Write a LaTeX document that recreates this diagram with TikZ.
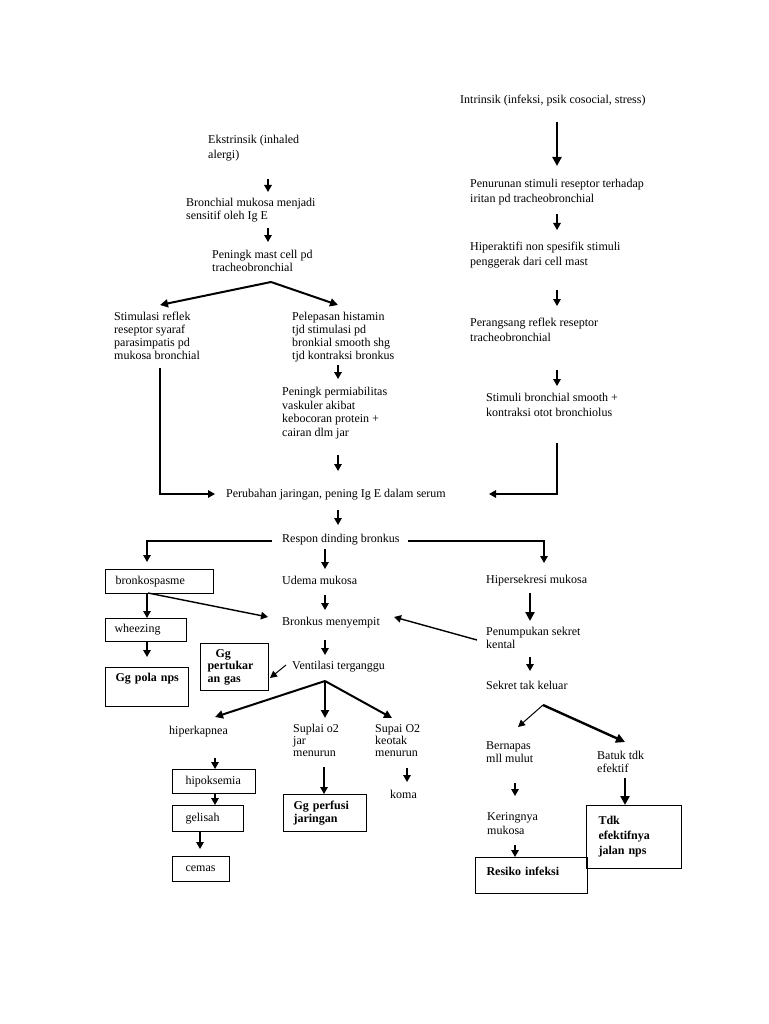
\documentclass[tikz,border=0pt]{standalone}
\usepackage{fontspec}
\setmainfont{Liberation Serif}
\usetikzlibrary{arrows.meta,calc}
\begin{document}
\begin{tikzpicture}[x=1pt,y=-1pt,
  fnt/.style={font=\fontsize{12}{13}\selectfont},
  txt/.style={fnt, anchor=north west, inner sep=0pt, align=left},
  bx/.style={fnt, draw, line width=1.1pt, anchor=north west, inner ysep=0pt, align=left},
  arr/.style={line width=1.4pt, -{Triangle[length=7pt,width=7.5pt]}},
  thk/.style={line width=2.4pt, -{Triangle[length=9pt,width=9pt]}},
  brn/.style={line width=2pt, -{Triangle[length=8pt,width=8pt]}},
  thn/.style={line width=1pt, -{Triangle[length=7pt,width=7pt]}}
]
\useasboundingbox[fill=white] (0,0) rectangle (768,1024);

% ---- text nodes
\node[txt] (intr) at (460,94.5) {Intrinsik (infeksi, psik cosocial, stress)};
\node[txt, font=\fontsize{12}{14.5}\selectfont] (ekst) at (208,135) {Ekstrinsik (inhaled\\alergi)};
\node[txt] (bmuk) at (186,198) {Bronchial mukosa menjadi\\sensitif oleh Ig E};
\node[txt] (mast) at (212,250) {Peningk mast cell pd\\tracheobronchial};
\node[txt] (stim) at (114,312) {Stimulasi reflek\\reseptor syaraf\\parasimpatis pd\\mukosa bronchial};
\node[txt] (pelep) at (292,312) {Pelepasan histamin\\tjd stimulasi pd\\bronkial smooth shg\\tjd kontraksi bronkus};
\node[txt, font=\fontsize{12}{13.5}\selectfont] (perm) at (282,387) {Peningk permiabilitas\\vaskuler akibat\\kebocoran protein +\\cairan dlm jar};
\node[txt, font=\fontsize{12}{14.5}\selectfont] (penur) at (470,179) {Penurunan stimuli reseptor terhadap\\iritan pd tracheobronchial};
\node[txt, font=\fontsize{12}{15}\selectfont] (hiper) at (470,242) {Hiperaktifi non spesifik stimuli\\penggerak dari cell mast};
\node[txt, font=\fontsize{12}{15}\selectfont] (peran) at (470,318) {Perangsang reflek reseptor\\tracheobronchial};
\node[txt, font=\fontsize{12}{15}\selectfont] (stimb) at (486,393) {Stimuli bronchial smooth +\\kontraksi otot bronchiolus};
\node[txt] (perub) at (226,489) {Perubahan jaringan, pening Ig E dalam serum};
\node[txt] (respon) at (282,534) {Respon dinding bronkus};
\node[txt] (udema) at (282,576) {Udema mukosa};
\node[txt] (hipers) at (486,575) {Hipersekresi mukosa};
\node[txt] (menyem) at (282,617) {Bronkus menyempit};
\node[txt] (penump) at (486,627) {Penumpukan sekret\\kental};
\node[txt] (venti) at (292,661) {Ventilasi terganggu};
\node[txt] (sekret) at (486,681) {Sekret tak keluar};
\node[txt] (hiperk) at (169,726) {hiperkapnea};
\node[txt, font=\fontsize{12}{12}\selectfont] (suplai) at (293,724) {Suplai o2\\jar\\menurun};
\node[txt, font=\fontsize{12}{12}\selectfont] (supai) at (375,724) {Supai O2\\keotak\\menurun};
\node[txt] (koma) at (390,790) {koma};
\node[txt] (bernap) at (486,741) {Bernapas\\mll mulut};
\node[txt] (batuk) at (597,751) {Batuk tdk\\efektif};
\node[txt, font=\fontsize{12}{14}\selectfont] (kering) at (487,812) {Keringnya\\mukosa};

% ---- boxes
\node[bx, inner xsep=10pt, text width=88pt, minimum height=24pt] (bronko) at (105,569) {bronkospasme};
\node[bx, inner xsep=9pt, text width=63pt, minimum height=23pt] (wheez) at (105,618) {wheezing};
\node[bx, font=\fontsize{12}{13}\selectfont\bfseries, inner xsep=10pt, text width=63pt, text height=13.5pt, text depth=25.5pt] (pola) at (105,667) {\mbox{Gg pola nps}};
\node[bx, font=\fontsize{12}{12.5}\selectfont\bfseries, inner xsep=7pt, text width=54pt, minimum height=47pt] (pertuk) at (200,643) {\hspace*{8pt}Gg\\pertukar\\an gas};
\node[bx, inner xsep=13pt, text width=57pt, minimum height=24pt] (hipoks) at (172,769) {hipoksemia};
\node[bx, inner xsep=13pt, text width=45pt, minimum height=26pt] (gelisah) at (172,805) {gelisah};
\node[bx, inner xsep=13pt, text width=31pt, minimum height=25pt] (cemas) at (172,856) {cemas};
\node[bx, font=\fontsize{12}{13}\selectfont\bfseries, inner xsep=10pt, text width=63pt, minimum height=37pt] (perfusi) at (283,794) {Gg perfusi\\jaringan};
\node[bx, font=\fontsize{12}{13}\selectfont\bfseries, inner xsep=11pt, text width=90pt, text height=17.5pt, text depth=18.5pt] (resiko) at (475,857) {Resiko infeksi};
\node[bx, font=\fontsize{12}{15}\selectfont\bfseries, inner xsep=12pt, text width=71pt, minimum height=63pt] (tdk) at (586,805) {Tdk\\efektifnya\\jalan nps};

% ---- right column
\draw[thk] ($(intr.north west)+(97,27.5)$) -- ($(penur.north west)+(87,-13)$);
\draw[arr] ($(penur.north west)+(87,35)$) -- ($(hiper.north west)+(87,-12)$);
\draw[arr] ($(hiper.north west)+(87,48)$) -- ($(peran.north west)+(87,-12)$);
\draw[arr] ($(peran.north west)+(87,52)$) -- ($(stimb.north west)+(71,-7)$);
\draw[arr] ($(stimb.north west)+(71,50)$) |- ($(perub.north west)+(263,5)$);

% ---- left column
\draw[arr] ($(ekst.north west)+(60,44)$) -- ($(bmuk.north west)+(82,-6)$);
\draw[arr] ($(bmuk.north west)+(82,30)$) -- ($(mast.north west)+(56,-8)$);
\coordinate (pk1) at ($(mast.north west)+(59,32)$);
\draw[brn] (pk1) -- ($(stim.north west)+(46,-7)$);
\draw[brn] (pk1) -- ($(pelep.north west)+(46,-7)$);
\draw[arr] ($(pelep.north west)+(46,53)$) -- ($(perm.north west)+(56,-8)$);
\draw[arr] ($(perm.north west)+(56,68)$) -- ($(perub.north west)+(112,-18)$);
\draw[arr] ($(stim.north west)+(46,56)$) |- ($(perub.north west)+(-11,5)$);

% ---- middle
\draw[arr] ($(perub.north west)+(112,21)$) -- ($(respon.north west)+(56,-9)$);
\draw[arr] ($(respon.north west)+(-10,7)$) -| ($(bronko.north west)+(42,-7)$);
\draw[arr] ($(respon.north west)+(126,7)$) -| ($(hipers.north west)+(58,-12)$);
\draw[arr] ($(respon.north west)+(43,15)$) -- ($(udema.north west)+(43,-7)$);
\draw[arr] ($(udema.north west)+(43,19)$) -- ($(menyem.north west)+(43,-7)$);
\draw[thk] ($(hipers.north west)+(44,18)$) -- ($(penump.north west)+(44,-6)$);
\draw[arr] ($(bronko.north west)+(42,24)$) -- ($(wheez.north west)+(42,0)$);
\draw[arr] ($(bronko.north west)+(43,24)$) -- ($(menyem.north west)+(-14,0)$);
\draw[arr] ($(wheez.north west)+(42,23)$) -- ($(pola.north west)+(42,-10)$);
\draw[arr] ($(penump.north west)+(-9,13)$) -- ($(menyem.north west)+(112,0)$);
\draw[arr] ($(penump.north west)+(44,30)$) -- ($(sekret.north west)+(44,-10)$);
\draw[arr] ($(menyem.north west)+(43,23)$) -- ($(venti.north west)+(33,-6)$);
\draw[thn] ($(venti.north west)+(-6,4)$) -- ($(pertuk.north west)+(70,35)$);
\coordinate (pk2) at ($(venti.north west)+(33,20)$);
\draw[brn] (pk2) -- ($(hiperk.north west)+(46,-9)$);
\draw[brn] (pk2) -- ($(suplai.north west)+(32,-6)$);
\draw[brn] (pk2) -- ($(supai.north west)+(17,-6)$);

% ---- bottom left
\draw[arr] ($(hiperk.north west)+(46,32)$) -- ($(hipoks.north west)+(43,0)$);
\draw[arr] ($(hipoks.north west)+(43,24)$) -- ($(gelisah.north west)+(43,0)$);
\draw[arr] ($(gelisah.north west)+(28,26)$) -- ($(cemas.north west)+(28,-7)$);
\draw[arr] ($(suplai.north west)+(31,43)$) -- ($(perfusi.north west)+(41,0)$);
\draw[arr] ($(supai.north west)+(32,44)$) -- ($(koma.north west)+(17,-8)$);

% ---- bottom right
\coordinate (pk3) at ($(sekret.north west)+(57,24)$);
\draw[thn] (pk3) -- ($(bernap.north west)+(32,-14)$);
\draw[thk] (pk3) -- ($(batuk.north west)+(28,-9)$);
\draw[arr] ($(bernap.north west)+(29,42)$) -- ($(kering.north west)+(28,-16)$);
\draw[arr] ($(kering.north west)+(28,33)$) -- ($(resiko.north west)+(40,0)$);
\draw[thk] ($(batuk.north west)+(28,27)$) -- ($(tdk.north west)+(39,0)$);
\end{tikzpicture}
\end{document}
